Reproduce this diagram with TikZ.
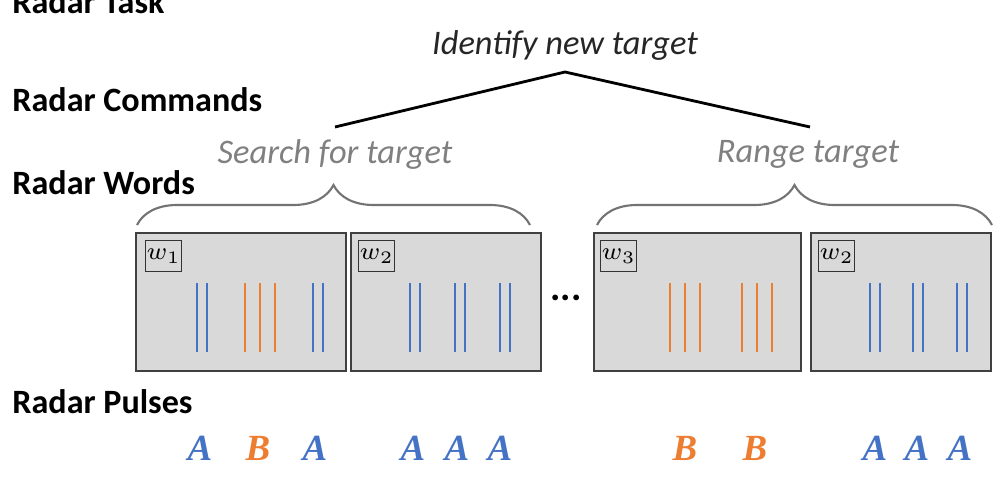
\documentclass[tikz,border=0pt]{standalone}
\usepackage{fontspec}
\setmainfont{Carlito}
\newfontfamily\letf{Liberation Serif}
\usetikzlibrary{decorations.pathreplacing}
\definecolor{pblue}{HTML}{4472C4}
\definecolor{porange}{HTML}{ED7D31}
\definecolor{boxgray}{HTML}{D9D9D9}
\begin{document}
\begin{tikzpicture}[x=0.1mm,y=-0.1mm,
  hd/.style={anchor=west,font=\fontsize{9.7}{12}\selectfont\bfseries},
  it/.style={font=\fontsize{9.8}{12}\selectfont\itshape},
  wbox/.style={draw=black!75,fill=boxgray,line width=0.5pt,anchor=north west,inner sep=0pt},
  lbl/.style={draw=black!80,fill=boxgray,anchor=north west,minimum width=3.6mm,minimum height=3.1mm,inner sep=0pt,font=\fontsize{7.5}{9}\selectfont},
  bl/.style={pblue,line width=0.7pt},
  ol/.style={porange,line width=0.7pt},
  brc/.style={decorate,decoration={brace,amplitude=4mm},draw=black!55,line width=0.6pt},
  pa/.style={font=\fontsize{10.5}{12}\selectfont\letf\bfseries\itshape,pblue},
  pb/.style={font=\fontsize{10.5}{12}\selectfont\letf\bfseries\itshape,porange}]
\clip (0,0) rectangle (1000,482);
\useasboundingbox (0,0) rectangle (1000,482);
\node[hd] (task) at (0,2) {Radar Task};
\node[hd] (cmd) at (0,100) {Radar Commands};
\node[hd] (words) at (0,183) {Radar Words};
\node[hd] (pulses) at (0,402) {Radar Pulses};
\node[it,black!85] (top) at (565,45) {Identify new target};
\coordinate (apex) at (565,72);
\coordinate (cl) at (335,127);
\coordinate (cr) at (810,127);
\draw[line width=0.8pt] (cl) -- (apex) -- (cr);
\node[it,black!50] (s1) at (335,154) {Search for target};
\node[it,black!50] (s2) at (808,154) {Range target};
\coordinate (b1a) at (137,225); \coordinate (b1b) at (530,225);
\coordinate (b2a) at (597,225); \coordinate (b2b) at (992,225);
\draw[brc] (b1a) -- (b1b);
\draw[brc] (b2a) -- (b2b);
\node[wbox,minimum width=21mm,minimum height=13.8mm] (W1) at (135,232) {};
\node[wbox,minimum width=19mm,minimum height=13.8mm] (W2) at (350,232) {};
\node[wbox,minimum width=20.7mm,minimum height=13.8mm] (W3) at (593,232) {};
\node[wbox,minimum width=18mm,minimum height=13.8mm] (W4) at (810,232) {};
\node[lbl] (l1) at (145,240) {$w_1$};
\node[lbl] (l2) at (358,240) {$w_2$};
\node[lbl] (l3) at (600,240) {$w_3$};
\node[lbl] (l4) at (818,240) {$w_2$};
\foreach \x in {197,207,313,323,410,420,455,465,500,510,870,880,913,923,957,967}
  \draw[bl] (\x,283) -- (\x,352);
\foreach \x in {245,260,275,670,685,700,742,757,772}
  \draw[ol] (\x,283) -- (\x,352);
\node[font=\fontsize{11}{12}\selectfont\bfseries] (dots) at (566,298) {...};
\foreach \x/\s/\t in {200/pa/A,258/pb/B,315/pa/A,413/pa/A,457/pa/A,500/pa/A,685/pb/B,755/pb/B,875/pa/A,917/pa/A,960/pa/A}
  \node[\s] at (\x,448) {\t};
\end{tikzpicture}
\end{document}
